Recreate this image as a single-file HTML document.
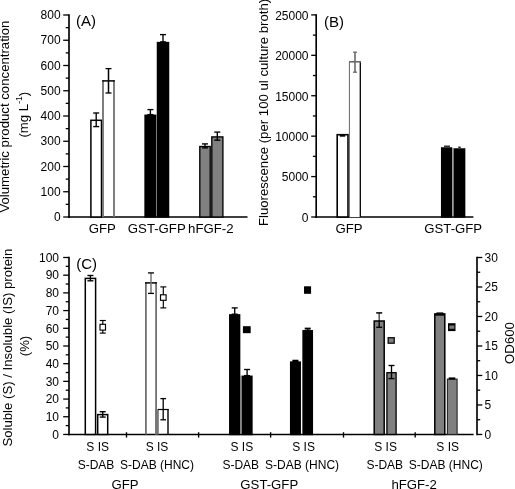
<!DOCTYPE html>
<html><head><meta charset="utf-8"><title>Figure</title>
<style>
html,body{margin:0;padding:0;background:#fff;}
svg{display:block;}
text{font-family:"Liberation Sans",sans-serif;fill:#000;}
</style></head><body>
<svg width="515" height="489" viewBox="0 0 515 489">
<rect width="515" height="489" fill="#fff"/>
<line x1="69" y1="14.35" x2="69" y2="217.9" stroke="#000" stroke-width="1.65"/>
<line x1="68.1" y1="217" x2="247.5" y2="217" stroke="#000" stroke-width="1.65"/>
<line x1="63.2" y1="217.0" x2="69" y2="217.0" stroke="#000" stroke-width="1.3"/>
<text x="60.6" y="221.1" font-size="12" text-anchor="end">0</text>
<line x1="65.7" y1="204.38" x2="69" y2="204.38" stroke="#000" stroke-width="1.3"/>
<line x1="63.2" y1="191.75" x2="69" y2="191.75" stroke="#000" stroke-width="1.3"/>
<text x="60.6" y="195.85" font-size="12" text-anchor="end">100</text>
<line x1="65.7" y1="179.12" x2="69" y2="179.12" stroke="#000" stroke-width="1.3"/>
<line x1="63.2" y1="166.5" x2="69" y2="166.5" stroke="#000" stroke-width="1.3"/>
<text x="60.6" y="170.6" font-size="12" text-anchor="end">200</text>
<line x1="65.7" y1="153.88" x2="69" y2="153.88" stroke="#000" stroke-width="1.3"/>
<line x1="63.2" y1="141.25" x2="69" y2="141.25" stroke="#000" stroke-width="1.3"/>
<text x="60.6" y="145.35" font-size="12" text-anchor="end">300</text>
<line x1="65.7" y1="128.62" x2="69" y2="128.62" stroke="#000" stroke-width="1.3"/>
<line x1="63.2" y1="116.0" x2="69" y2="116.0" stroke="#000" stroke-width="1.3"/>
<text x="60.6" y="120.1" font-size="12" text-anchor="end">400</text>
<line x1="65.7" y1="103.38" x2="69" y2="103.38" stroke="#000" stroke-width="1.3"/>
<line x1="63.2" y1="90.75" x2="69" y2="90.75" stroke="#000" stroke-width="1.3"/>
<text x="60.6" y="94.85" font-size="12" text-anchor="end">500</text>
<line x1="65.7" y1="78.12" x2="69" y2="78.12" stroke="#000" stroke-width="1.3"/>
<line x1="63.2" y1="65.5" x2="69" y2="65.5" stroke="#000" stroke-width="1.3"/>
<text x="60.6" y="69.6" font-size="12" text-anchor="end">600</text>
<line x1="65.7" y1="52.88" x2="69" y2="52.88" stroke="#000" stroke-width="1.3"/>
<line x1="63.2" y1="40.25" x2="69" y2="40.25" stroke="#000" stroke-width="1.3"/>
<text x="60.6" y="44.35" font-size="12" text-anchor="end">700</text>
<line x1="65.7" y1="27.62" x2="69" y2="27.62" stroke="#000" stroke-width="1.3"/>
<line x1="63.2" y1="15.0" x2="69" y2="15.0" stroke="#000" stroke-width="1.3"/>
<text x="60.6" y="19.1" font-size="12" text-anchor="end">800</text>
<rect x="90.9" y="120.3" width="10.6" height="96.7" fill="#fff" stroke="#000" stroke-width="1.5"/>
<line x1="96.2" y1="113" x2="96.2" y2="126.6" stroke="#000" stroke-width="1.35"/>
<line x1="93.2" y1="113" x2="99.2" y2="113" stroke="#000" stroke-width="1.35"/>
<line x1="93.2" y1="126.6" x2="99.2" y2="126.6" stroke="#000" stroke-width="1.35"/>
<line x1="103.0" y1="80.2" x2="103.0" y2="217" stroke="#707070" stroke-width="1.8"/>
<line x1="114.0" y1="80.2" x2="114.0" y2="217" stroke="#707070" stroke-width="1.8"/>
<line x1="102.2" y1="80.9" x2="114.8" y2="80.9" stroke="#000" stroke-width="1.5"/>
<line x1="108.5" y1="68.6" x2="108.5" y2="93" stroke="#000" stroke-width="1.5"/>
<line x1="105.5" y1="68.6" x2="111.5" y2="68.6" stroke="#000" stroke-width="1.3"/>
<line x1="105.5" y1="93" x2="111.5" y2="93" stroke="#000" stroke-width="1.3"/>
<rect x="145.1" y="115.3" width="10.5" height="101.7" fill="#000" stroke="#000" stroke-width="1.5"/>
<line x1="150.4" y1="109.6" x2="150.4" y2="114.6" stroke="#000" stroke-width="1.35"/>
<line x1="147.4" y1="109.6" x2="153.4" y2="109.6" stroke="#000" stroke-width="1.35"/>
<line x1="147.4" y1="114.6" x2="153.4" y2="114.6" stroke="#000" stroke-width="1.35"/>
<rect x="157.5" y="42.6" width="11.0" height="174.4" fill="#000" stroke="#000" stroke-width="1.5"/>
<line x1="163.0" y1="34.6" x2="163.0" y2="41.9" stroke="#000" stroke-width="1.35"/>
<line x1="160.0" y1="34.6" x2="166.0" y2="34.6" stroke="#000" stroke-width="1.35"/>
<line x1="160.0" y1="41.9" x2="166.0" y2="41.9" stroke="#000" stroke-width="1.35"/>
<rect x="199.79999999999998" y="146.5" width="10.4" height="70.5" fill="#808080" stroke="#000" stroke-width="1.35"/>
<line x1="205.0" y1="143.9" x2="205.0" y2="147.9" stroke="#000" stroke-width="1.35"/>
<line x1="202.0" y1="143.9" x2="208.0" y2="143.9" stroke="#000" stroke-width="1.35"/>
<line x1="202.0" y1="147.9" x2="208.0" y2="147.9" stroke="#000" stroke-width="1.35"/>
<rect x="211.79999999999998" y="136.89999999999998" width="11.1" height="80.1" fill="#808080" stroke="#000" stroke-width="1.35"/>
<line x1="217.3" y1="132.1" x2="217.3" y2="140.2" stroke="#000" stroke-width="1.35"/>
<line x1="214.3" y1="132.1" x2="220.3" y2="132.1" stroke="#000" stroke-width="1.35"/>
<line x1="214.3" y1="140.2" x2="220.3" y2="140.2" stroke="#000" stroke-width="1.35"/>
<text x="102.3" y="233" font-size="13.2" text-anchor="middle">GFP</text>
<text x="156.8" y="233" font-size="13.2" text-anchor="middle">GST-GFP</text>
<text x="210.8" y="233" font-size="13.2" text-anchor="middle">hFGF-2</text>
<text x="76" y="26" font-size="15" text-anchor="start">(A)</text>
<text x="9.4" y="212.6" font-size="13.2" text-anchor="start" transform="rotate(-90 9.4 212.6)">Volumetric product concentration</text>
<text x="27.9" y="114.7" font-size="13.2" text-anchor="middle" transform="rotate(-90 27.9 114.7)">(mg L<tspan font-size="8.5" dy="-6">-1</tspan><tspan dy="6">)</tspan></text>
<line x1="316.2" y1="14.25" x2="316.2" y2="217.9" stroke="#000" stroke-width="1.65"/>
<line x1="315.3" y1="217" x2="473.4" y2="217" stroke="#000" stroke-width="1.65"/>
<line x1="311.2" y1="217.0" x2="316.2" y2="217.0" stroke="#000" stroke-width="1.3"/>
<text x="308.5" y="221.8" font-size="12" text-anchor="end">0</text>
<line x1="312.9" y1="196.79" x2="316.2" y2="196.79" stroke="#000" stroke-width="1.3"/>
<line x1="311.2" y1="176.58" x2="316.2" y2="176.58" stroke="#000" stroke-width="1.3"/>
<text x="308.5" y="181.38" font-size="12" text-anchor="end">5000</text>
<line x1="312.9" y1="156.37" x2="316.2" y2="156.37" stroke="#000" stroke-width="1.3"/>
<line x1="311.2" y1="136.16" x2="316.2" y2="136.16" stroke="#000" stroke-width="1.3"/>
<text x="308.5" y="140.96" font-size="12" text-anchor="end">10000</text>
<line x1="312.9" y1="115.95" x2="316.2" y2="115.95" stroke="#000" stroke-width="1.3"/>
<line x1="311.2" y1="95.74" x2="316.2" y2="95.74" stroke="#000" stroke-width="1.3"/>
<text x="308.5" y="100.54" font-size="12" text-anchor="end">15000</text>
<line x1="312.9" y1="75.53" x2="316.2" y2="75.53" stroke="#000" stroke-width="1.3"/>
<line x1="311.2" y1="55.32" x2="316.2" y2="55.32" stroke="#000" stroke-width="1.3"/>
<text x="308.5" y="60.12" font-size="12" text-anchor="end">20000</text>
<line x1="312.9" y1="35.11" x2="316.2" y2="35.11" stroke="#000" stroke-width="1.3"/>
<line x1="311.2" y1="14.9" x2="316.2" y2="14.9" stroke="#000" stroke-width="1.3"/>
<text x="308.5" y="19.7" font-size="12" text-anchor="end">25000</text>
<rect x="337.2" y="134.7" width="10.8" height="82.3" fill="#fff" stroke="#000" stroke-width="1.6"/>
<line x1="339.8" y1="135.6" x2="345.2" y2="135.6" stroke="#000" stroke-width="2.2"/>
<rect x="349.4" y="61.8" width="11.0" height="155.2" fill="#fff" stroke="none" stroke-width="1"/>
<line x1="349.4" y1="61.8" x2="349.4" y2="217" stroke="#555" stroke-width="0.9"/>
<line x1="360.3" y1="61.8" x2="360.3" y2="217" stroke="#000" stroke-width="1.3"/>
<line x1="349.8" y1="61.1" x2="349.8" y2="217" stroke="none" stroke-width="1.9000000000000001"/>
<line x1="360.2" y1="61.1" x2="360.2" y2="217" stroke="none" stroke-width="1.9000000000000001"/>
<line x1="349" y1="61.800000000000004" x2="361" y2="61.800000000000004" stroke="#6a6a6a" stroke-width="1.6"/>
<line x1="355.0" y1="52.2" x2="355.0" y2="72.2" stroke="#6a6a6a" stroke-width="1.6"/>
<line x1="353.0" y1="52.2" x2="357.0" y2="52.2" stroke="#6a6a6a" stroke-width="1.3"/>
<line x1="353.0" y1="72.2" x2="357.0" y2="72.2" stroke="#6a6a6a" stroke-width="1.3"/>
<rect x="441.7" y="148.0" width="9.8" height="69.0" fill="#000" stroke="#000" stroke-width="1.5"/>
<line x1="444" y1="146.2" x2="450" y2="146.2" stroke="#000" stroke-width="1.2"/>
<line x1="452.95" y1="148" x2="452.95" y2="216" stroke="#8c8c8c" stroke-width="1.3"/>
<rect x="454.4" y="149.0" width="10.2" height="68.0" fill="#000" stroke="#000" stroke-width="1.5"/>
<line x1="458.3" y1="147.2" x2="460.7" y2="147.2" stroke="#000" stroke-width="1.3"/>
<text x="349" y="233" font-size="13.2" text-anchor="middle">GFP</text>
<text x="453.2" y="233" font-size="13.2" text-anchor="middle">GST-GFP</text>
<text x="324" y="27" font-size="15" text-anchor="start">(B)</text>
<text x="268" y="226.1" font-size="13.2" text-anchor="start" transform="rotate(-90 268 226.1)">Fluorescence (per 100 ul culture broth)</text>
<line x1="69" y1="256.85" x2="69" y2="435.34999999999997" stroke="#000" stroke-width="1.65"/>
<line x1="477" y1="256.85" x2="477" y2="435.34999999999997" stroke="#000" stroke-width="1.65"/>
<line x1="68.1" y1="434.45" x2="473.6" y2="434.45" stroke="#000" stroke-width="1.65"/>
<line x1="63.2" y1="434.45" x2="69" y2="434.45" stroke="#000" stroke-width="1.3"/>
<text x="59" y="438.75" font-size="12" text-anchor="end">0</text>
<line x1="65.7" y1="425.6" x2="69" y2="425.6" stroke="#000" stroke-width="1.3"/>
<line x1="63.2" y1="416.75" x2="69" y2="416.75" stroke="#000" stroke-width="1.3"/>
<text x="59" y="421.05" font-size="12" text-anchor="end">10</text>
<line x1="65.7" y1="407.91" x2="69" y2="407.91" stroke="#000" stroke-width="1.3"/>
<line x1="63.2" y1="399.06" x2="69" y2="399.06" stroke="#000" stroke-width="1.3"/>
<text x="59" y="403.36" font-size="12" text-anchor="end">20</text>
<line x1="65.7" y1="390.21" x2="69" y2="390.21" stroke="#000" stroke-width="1.3"/>
<line x1="63.2" y1="381.37" x2="69" y2="381.37" stroke="#000" stroke-width="1.3"/>
<text x="59" y="385.67" font-size="12" text-anchor="end">30</text>
<line x1="65.7" y1="372.52" x2="69" y2="372.52" stroke="#000" stroke-width="1.3"/>
<line x1="63.2" y1="363.67" x2="69" y2="363.67" stroke="#000" stroke-width="1.3"/>
<text x="59" y="367.97" font-size="12" text-anchor="end">40</text>
<line x1="65.7" y1="354.82" x2="69" y2="354.82" stroke="#000" stroke-width="1.3"/>
<line x1="63.2" y1="345.98" x2="69" y2="345.98" stroke="#000" stroke-width="1.3"/>
<text x="59" y="350.28" font-size="12" text-anchor="end">50</text>
<line x1="65.7" y1="337.13" x2="69" y2="337.13" stroke="#000" stroke-width="1.3"/>
<line x1="63.2" y1="328.28" x2="69" y2="328.28" stroke="#000" stroke-width="1.3"/>
<text x="59" y="332.58" font-size="12" text-anchor="end">60</text>
<line x1="65.7" y1="319.43" x2="69" y2="319.43" stroke="#000" stroke-width="1.3"/>
<line x1="63.2" y1="310.58" x2="69" y2="310.58" stroke="#000" stroke-width="1.3"/>
<text x="59" y="314.88" font-size="12" text-anchor="end">70</text>
<line x1="65.7" y1="301.74" x2="69" y2="301.74" stroke="#000" stroke-width="1.3"/>
<line x1="63.2" y1="292.89" x2="69" y2="292.89" stroke="#000" stroke-width="1.3"/>
<text x="59" y="297.19" font-size="12" text-anchor="end">80</text>
<line x1="65.7" y1="284.04" x2="69" y2="284.04" stroke="#000" stroke-width="1.3"/>
<line x1="63.2" y1="275.19" x2="69" y2="275.19" stroke="#000" stroke-width="1.3"/>
<text x="59" y="279.49" font-size="12" text-anchor="end">90</text>
<line x1="65.7" y1="266.35" x2="69" y2="266.35" stroke="#000" stroke-width="1.3"/>
<line x1="63.2" y1="257.5" x2="69" y2="257.5" stroke="#000" stroke-width="1.3"/>
<text x="59" y="261.8" font-size="12" text-anchor="end">100</text>
<line x1="477" y1="434.45" x2="482.3" y2="434.45" stroke="#000" stroke-width="1.3"/>
<text x="484.6" y="438.75" font-size="12" text-anchor="start">0</text>
<line x1="477" y1="419.7" x2="480.2" y2="419.7" stroke="#000" stroke-width="1.3"/>
<line x1="477" y1="404.96" x2="482.3" y2="404.96" stroke="#000" stroke-width="1.3"/>
<text x="484.6" y="409.26" font-size="12" text-anchor="start">5</text>
<line x1="477" y1="390.21" x2="480.2" y2="390.21" stroke="#000" stroke-width="1.3"/>
<line x1="477" y1="375.47" x2="482.3" y2="375.47" stroke="#000" stroke-width="1.3"/>
<text x="484.6" y="379.77" font-size="12" text-anchor="start">10</text>
<line x1="477" y1="360.72" x2="480.2" y2="360.72" stroke="#000" stroke-width="1.3"/>
<line x1="477" y1="345.98" x2="482.3" y2="345.98" stroke="#000" stroke-width="1.3"/>
<text x="484.6" y="350.28" font-size="12" text-anchor="start">15</text>
<line x1="477" y1="331.23" x2="480.2" y2="331.23" stroke="#000" stroke-width="1.3"/>
<line x1="477" y1="316.48" x2="482.3" y2="316.48" stroke="#000" stroke-width="1.3"/>
<text x="484.6" y="320.78" font-size="12" text-anchor="start">20</text>
<line x1="477" y1="301.74" x2="480.2" y2="301.74" stroke="#000" stroke-width="1.3"/>
<line x1="477" y1="286.99" x2="482.3" y2="286.99" stroke="#000" stroke-width="1.3"/>
<text x="484.6" y="291.29" font-size="12" text-anchor="start">25</text>
<line x1="477" y1="272.25" x2="480.2" y2="272.25" stroke="#000" stroke-width="1.3"/>
<line x1="477" y1="257.5" x2="482.3" y2="257.5" stroke="#000" stroke-width="1.3"/>
<text x="484.6" y="261.8" font-size="12" text-anchor="start">30</text>
<line x1="126.5" y1="432.2" x2="126.5" y2="437.6" stroke="#000" stroke-width="1.35"/>
<line x1="198.6" y1="432.2" x2="198.6" y2="437.6" stroke="#000" stroke-width="1.35"/>
<line x1="270.6" y1="432.2" x2="270.6" y2="437.6" stroke="#000" stroke-width="1.35"/>
<line x1="343.5" y1="432.2" x2="343.5" y2="437.6" stroke="#000" stroke-width="1.35"/>
<line x1="415.2" y1="432.2" x2="415.2" y2="437.6" stroke="#000" stroke-width="1.35"/>
<rect x="85.3" y="278.4" width="10.3" height="156.05" fill="#fff" stroke="#000" stroke-width="1.5"/>
<line x1="90.4" y1="275.5" x2="90.4" y2="280.8" stroke="#000" stroke-width="1.35"/>
<line x1="87.4" y1="275.5" x2="93.4" y2="275.5" stroke="#000" stroke-width="1.35"/>
<line x1="87.4" y1="280.8" x2="93.4" y2="280.8" stroke="#000" stroke-width="1.35"/>
<rect x="97.7" y="414.59999999999997" width="10.0" height="19.85" fill="#fff" stroke="#000" stroke-width="1.5"/>
<line x1="102.7" y1="411.7" x2="102.7" y2="417.1" stroke="#000" stroke-width="1.35"/>
<line x1="99.7" y1="411.7" x2="105.7" y2="411.7" stroke="#000" stroke-width="1.35"/>
<line x1="99.7" y1="417.1" x2="105.7" y2="417.1" stroke="#000" stroke-width="1.35"/>
<line x1="145.9" y1="282.2" x2="145.9" y2="434.45" stroke="#707070" stroke-width="1.8"/>
<line x1="156.1" y1="282.2" x2="156.1" y2="434.45" stroke="#707070" stroke-width="1.8"/>
<line x1="145.1" y1="282.9" x2="156.9" y2="282.9" stroke="#000" stroke-width="1.5"/>
<line x1="151.0" y1="272.9" x2="151.0" y2="293.4" stroke="#777" stroke-width="1.5"/>
<line x1="148.0" y1="272.9" x2="154.0" y2="272.9" stroke="#000" stroke-width="1.3"/>
<line x1="148.0" y1="293.4" x2="154.0" y2="293.4" stroke="#000" stroke-width="1.3"/>
<rect x="155.1" y="409.2" width="3.7" height="25.25" fill="#777" stroke="none" stroke-width="0"/>
<line x1="158" y1="409.5" x2="168.7" y2="409.5" stroke="#000" stroke-width="1.2"/>
<line x1="168" y1="409" x2="168" y2="434.45" stroke="#000" stroke-width="1.4"/>
<line x1="163.2" y1="398.6" x2="163.2" y2="419.8" stroke="#000" stroke-width="1.3"/>
<line x1="160.39999999999998" y1="398.6" x2="166.0" y2="398.6" stroke="#000" stroke-width="1.3"/>
<line x1="160.39999999999998" y1="419.8" x2="166.0" y2="419.8" stroke="#000" stroke-width="1.3"/>
<rect x="229.79999999999998" y="314.9" width="9.8" height="119.55" fill="#000" stroke="#000" stroke-width="1.5"/>
<line x1="234.7" y1="307.9" x2="234.7" y2="314.2" stroke="#000" stroke-width="1.35"/>
<line x1="231.7" y1="307.9" x2="237.7" y2="307.9" stroke="#000" stroke-width="1.35"/>
<line x1="231.7" y1="314.2" x2="237.7" y2="314.2" stroke="#000" stroke-width="1.35"/>
<rect x="242.2" y="376.3" width="9.7" height="58.15" fill="#000" stroke="#000" stroke-width="1.5"/>
<line x1="247.1" y1="369.5" x2="247.1" y2="375.6" stroke="#000" stroke-width="1.35"/>
<line x1="244.1" y1="369.5" x2="250.1" y2="369.5" stroke="#000" stroke-width="1.35"/>
<line x1="244.1" y1="375.6" x2="250.1" y2="375.6" stroke="#000" stroke-width="1.35"/>
<line x1="240.9" y1="376" x2="240.9" y2="433.55" stroke="#808080" stroke-width="1.4"/>
<rect x="290.7" y="362.09999999999997" width="9.5" height="72.35" fill="#000" stroke="#000" stroke-width="1.5"/>
<line x1="295.4" y1="360.4" x2="295.4" y2="361.4" stroke="#000" stroke-width="1.35"/>
<line x1="292.4" y1="360.4" x2="298.4" y2="360.4" stroke="#000" stroke-width="1.35"/>
<line x1="292.4" y1="361.4" x2="298.4" y2="361.4" stroke="#000" stroke-width="1.35"/>
<rect x="303.09999999999997" y="330.8" width="9.2" height="103.65" fill="#000" stroke="#000" stroke-width="1.5"/>
<line x1="307.7" y1="328.3" x2="307.7" y2="330.1" stroke="#000" stroke-width="1.35"/>
<line x1="304.7" y1="328.3" x2="310.7" y2="328.3" stroke="#000" stroke-width="1.35"/>
<line x1="304.7" y1="330.1" x2="310.7" y2="330.1" stroke="#000" stroke-width="1.35"/>
<rect x="374.2" y="321.0" width="10.0" height="113.45" fill="#808080" stroke="#000" stroke-width="1.5"/>
<line x1="379.2" y1="312.9" x2="379.2" y2="320" stroke="#555" stroke-width="1.5"/>
<line x1="379.2" y1="320" x2="379.2" y2="327.3" stroke="#000" stroke-width="1.35"/>
<line x1="376.2" y1="312.9" x2="382.2" y2="312.9" stroke="#000" stroke-width="1.5"/>
<line x1="376.2" y1="327.3" x2="382.2" y2="327.3" stroke="#000" stroke-width="1.35"/>
<rect x="386.9" y="372.7" width="9.2" height="61.75" fill="#808080" stroke="#000" stroke-width="1.3"/>
<line x1="391.5" y1="365.5" x2="391.5" y2="378.6" stroke="#000" stroke-width="1.35"/>
<line x1="388.5" y1="365.5" x2="394.5" y2="365.5" stroke="#000" stroke-width="1.35"/>
<line x1="388.5" y1="378.6" x2="394.5" y2="378.6" stroke="#000" stroke-width="1.35"/>
<rect x="434.8" y="314.0" width="10.0" height="120.45" fill="#808080" stroke="#000" stroke-width="1.5"/>
<line x1="434.8" y1="314.5" x2="444.8" y2="314.5" stroke="#000" stroke-width="2.4"/>
<line x1="436.5" y1="312.9" x2="443.3" y2="312.9" stroke="#000" stroke-width="1"/>
<rect x="447.4" y="379.09999999999997" width="9.7" height="55.35" fill="#808080" stroke="#222" stroke-width="1.1"/>
<line x1="448.7" y1="378.5" x2="455.3" y2="378.5" stroke="#000" stroke-width="2.2"/>
<line x1="102.8" y1="320.5" x2="102.8" y2="333.1" stroke="#000" stroke-width="1.15"/>
<line x1="99.8" y1="320.5" x2="105.8" y2="320.5" stroke="#000" stroke-width="1.15"/>
<line x1="99.8" y1="333.1" x2="105.8" y2="333.1" stroke="#000" stroke-width="1.15"/>
<rect x="100.0" y="324.3" width="5.5" height="5.8" fill="#fff" stroke="#000" stroke-width="1.15"/>
<line x1="163.3" y1="286.9" x2="163.3" y2="307.9" stroke="#000" stroke-width="1.15"/>
<line x1="160.3" y1="286.9" x2="166.3" y2="286.9" stroke="#000" stroke-width="1.15"/>
<line x1="160.3" y1="307.9" x2="166.3" y2="307.9" stroke="#000" stroke-width="1.15"/>
<rect x="160.5" y="294.8" width="5.6" height="5.5" fill="#fff" stroke="#000" stroke-width="1.15"/>
<rect x="243.5" y="326.8" width="6.6" height="5.8" fill="#000" stroke="#000" stroke-width="1.15"/>
<rect x="304.6" y="286.9" width="5.9" height="6.3" fill="#000" stroke="#000" stroke-width="1.15"/>
<rect x="388.2" y="337.7" width="6.0" height="5.5" fill="#808080" stroke="#111" stroke-width="1.35"/>
<rect x="448" y="323.2" width="7.5" height="7.9" fill="#000" stroke="none" stroke-width="0"/>
<rect x="449.3" y="325.5" width="5.1" height="3.3" fill="#7a7a7a" stroke="none" stroke-width="0"/>
<text x="97.7" y="451.2" font-size="12" text-anchor="middle">S IS</text>
<text x="157" y="451.2" font-size="12" text-anchor="middle">S IS</text>
<text x="241.8" y="451.2" font-size="12" text-anchor="middle">S IS</text>
<text x="303.6" y="451.2" font-size="12" text-anchor="middle">S IS</text>
<text x="385.6" y="451.2" font-size="12" text-anchor="middle">S IS</text>
<text x="447.7" y="451.2" font-size="12" text-anchor="middle">S IS</text>
<text x="96" y="469" font-size="12" text-anchor="middle">S-DAB</text>
<text x="157" y="469" font-size="12" text-anchor="middle">S-DAB (HNC)</text>
<text x="240.8" y="469" font-size="12" text-anchor="middle">S-DAB</text>
<text x="302.1" y="469" font-size="12" text-anchor="middle">S-DAB (HNC)</text>
<text x="384.8" y="469" font-size="12" text-anchor="middle">S-DAB</text>
<text x="445.8" y="469" font-size="12" text-anchor="middle">S-DAB (HNC)</text>
<text x="125" y="488.6" font-size="13.2" text-anchor="middle">GFP</text>
<text x="269.3" y="488.6" font-size="13.2" text-anchor="middle">GST-GFP</text>
<text x="414.1" y="488.6" font-size="13.2" text-anchor="middle">hFGF-2</text>
<text x="76.2" y="269.3" font-size="15" text-anchor="start">(C)</text>
<text x="12.4" y="446.6" font-size="13.2" text-anchor="start" transform="rotate(-90 12.4 446.6)">Soluble (S) / Insoluble (IS) protein</text>
<text x="29.4" y="346" font-size="13.2" text-anchor="middle" transform="rotate(-90 29.4 346)">(%)</text>
<text x="514.2" y="343" font-size="13.2" text-anchor="middle" transform="rotate(-90 514.2 343)">OD600</text>
</svg>
</body></html>
